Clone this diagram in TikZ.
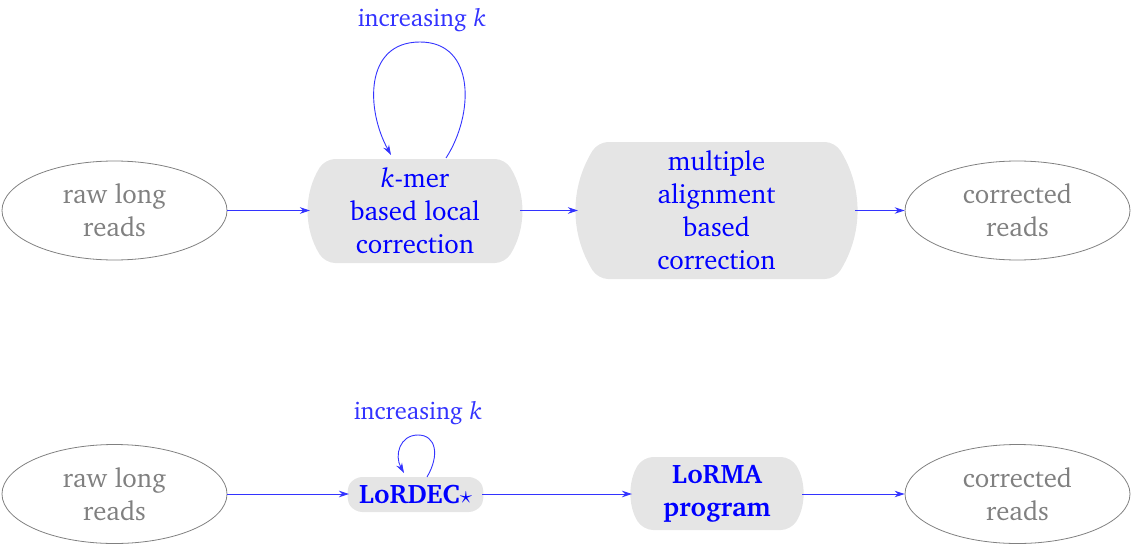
\documentclass[tikz,border=0pt]{standalone}
\usepackage[T1]{fontenc}
\usepackage{charter}
\usetikzlibrary{shapes.geometric,arrows.meta,calc,backgrounds}
\definecolor{boxgray}{RGB}{229,229,229}
\definecolor{arrblue}{RGB}{51,51,255}
\definecolor{txtgray}{RGB}{128,128,128}
\tikzset{
  x=1pt,y=1pt,
  txt/.style={font=\fontsize{26.8}{33}\selectfont, align=center, inner sep=0pt},
  readnode/.style={txt, ellipse, draw=txtgray, line width=0.8pt, text=txtgray, minimum width=225, minimum height=99},
  stepbox/.style={txt, text=blue},
  boldbox/.style={stepbox, font=\fontsize{26.8}{33}\selectfont\bfseries},
  arr/.style={draw=arrblue, line width=0.9pt, -{Stealth[length=10pt,width=6.5pt]}},
  lab/.style={font=\fontsize{24.5}{28}\selectfont, text=arrblue, inner sep=0pt}
}
\newcommand{\bulgebox}[5]{% name, width, height, inset, corner radius
  \fill[boxgray, rounded corners=#5]
    ($(#1)+(0,#3/2)$) -- ($(#1)+(#2/2-#4,#3/2)$)
    to[bend left=32] ($(#1)+(#2/2-#4,-#3/2)$)
    -- ($(#1)+(-#2/2+#4,-#3/2)$)
    to[bend left=32] ($(#1)+(-#2/2+#4,#3/2)$) -- cycle;
}
\begin{document}
\begin{tikzpicture}
\useasboundingbox (0,0) rectangle (1132,-546);
% top row
\node[readnode] (raw1) at (114.5,-210.5) {raw long\\reads};
\node[stepbox] (kmer) at (415,-211) {\textit{k}-mer\\based local\\correction};
\node[stepbox] (mult) at (716.5,-210.5) {multiple\\alignment\\based\\correction};
\node[readnode] (cor1) at (1017.5,-210.5) {corrected\\reads};
\begin{scope}[on background layer]
  \bulgebox{kmer}{210}{104}{15}{10pt}
  \bulgebox{mult}{277}{137}{20}{10pt}
\end{scope}
\draw[arr] (raw1.east) -- (310,-210.5);
\draw[arr] (520,-210.5) -- (578,-210.5);
\draw[arr] (855,-210.5) -- (cor1.west);
\coordinate (l1s) at (446,-158);
\coordinate (l1e) at (391,-155);
\draw[arr] (l1s) .. controls (474,-115) and (476,-42) .. (420,-42) .. controls (364,-42) and (366,-110) .. (l1e);
\node[lab] (inc1) at (422,-20) {increasing \textit{k}};
% bottom row
\node[readnode] (raw2) at (114.5,-494) {raw long\\reads};
\node[boldbox] (lordec) at (415.5,-494.5) {LoRDEC$\star$};
\node[boldbox] (lorma) at (717,-493.5) {LoRMA\\program};
\node[readnode] (cor2) at (1017.5,-494) {corrected\\reads};
\begin{scope}[on background layer]
  \bulgebox{lordec}{133}{35}{5}{8pt}
  \bulgebox{lorma}{170}{73}{11}{10pt}
\end{scope}
\draw[arr] (raw2.east) -- (349,-494);
\draw[arr] (482,-494) -- (632,-494);
\draw[arr] (802,-494) -- (cor2.west);
\coordinate (l2s) at (427,-477);
\coordinate (l2e) at (404,-473);
\draw[arr] (l2s) .. controls (440,-455) and (436,-435) .. (418,-435) .. controls (400,-435) and (394,-455) .. (l2e);
\node[lab] (inc2) at (418,-413) {increasing \textit{k}};
\end{tikzpicture}
\end{document}
